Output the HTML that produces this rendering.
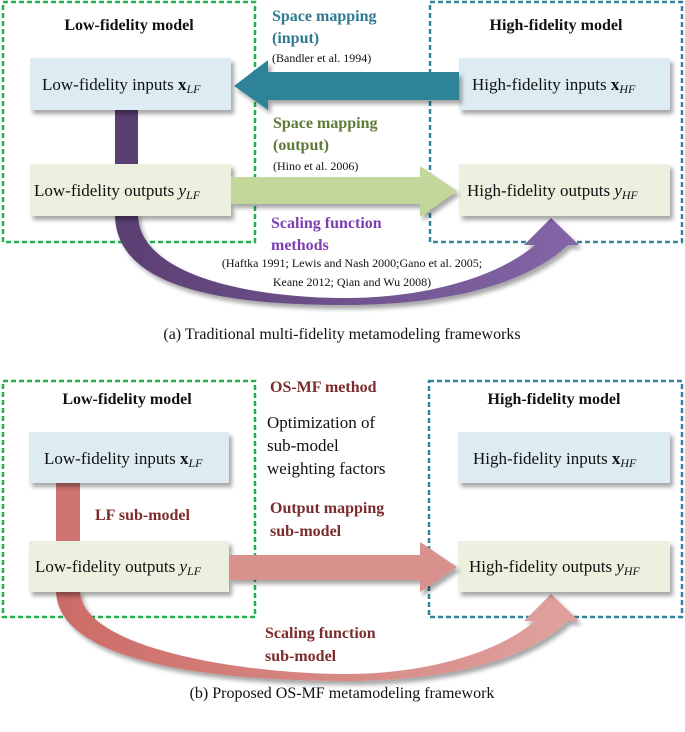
<!DOCTYPE html>
<html><head><meta charset="utf-8"><style>
html,body{margin:0;padding:0;background:#fff}
svg{display:block}
text{font-family:"Liberation Serif",serif}
.t{font-size:16px;font-weight:bold;fill:#111}
.b{font-size:17px;fill:#111}
.s{font-size:12px;fill:#111}
.c{font-size:16px;fill:#111}
</style></head><body>
<svg width="685" height="732" viewBox="0 0 685 732" xmlns="http://www.w3.org/2000/svg">
<defs>
<linearGradient id="pg" x1="0" y1="0" x2="1" y2="0"><stop offset="0" stop-color="#5a3f72"/><stop offset="1" stop-color="#8466a8"/></linearGradient>
<linearGradient id="rg" x1="0" y1="0" x2="1" y2="0"><stop offset="0" stop-color="#cc6b66"/><stop offset="1" stop-color="#e0a29e"/></linearGradient>
<filter id="sh" x="-10%" y="-10%" width="130%" height="140%"><feDropShadow dx="3" dy="4" stdDeviation="2" flood-color="#000" flood-opacity="0.35"/></filter>
</defs>

<!-- TOP -->
<rect x="3" y="2" width="252" height="240" fill="none" stroke="#22b14c" stroke-width="2.5" stroke-dasharray="5,3"/>
<rect x="430" y="2" width="252" height="240" fill="none" stroke="#31849b" stroke-width="2.5" stroke-dasharray="5,3"/>
<text class="t" x="129" y="30" text-anchor="middle">Low-fidelity model</text>
<text class="t" x="556" y="30" text-anchor="middle">High-fidelity model</text>

<rect x="115" y="108" width="23" height="60" fill="#5a3f72"/>
<path d="M138,214 C138,275 250,298 345,298 C430,298 500,275 535,245 L524,245 L551,218 L579,245 L568,245 C520,290 430,305 345,305 C230,305 115,290 115,214 Z" fill="url(#pg)" filter="url(#sh)"/>

<rect x="30" y="58" width="201" height="52" fill="#dcecf2" filter="url(#sh)"/>
<rect x="459" y="58" width="211" height="52" fill="#dcecf2" filter="url(#sh)"/>
<rect x="30" y="164" width="201" height="52" fill="#ebf1de" filter="url(#sh)"/>
<rect x="459" y="164" width="211" height="52" fill="#ebf1de" filter="url(#sh)"/>

<polygon points="459,72 268,72 268,60 234,86 268,110 268,100 459,100" fill="#2f8399" filter="url(#sh)"/>
<polygon points="231,177 420,177 420,166 457,191 420,217 420,204 231,204" fill="#c4d79b" filter="url(#sh)"/>

<text class="b" x="42" y="90">Low-fidelity inputs <tspan font-weight="bold">x</tspan><tspan font-style="italic" font-size="12" dy="3">LF</tspan></text>
<text class="b" x="472" y="90">High-fidelity inputs <tspan font-weight="bold">x</tspan><tspan font-style="italic" font-size="12" dy="3">HF</tspan></text>
<text class="b" x="34" y="196">Low-fidelity outputs <tspan font-style="italic">y</tspan><tspan font-style="italic" font-size="12" dy="3">LF</tspan></text>
<text class="b" x="467" y="196">High-fidelity outputs <tspan font-style="italic">y</tspan><tspan font-style="italic" font-size="12" dy="3">HF</tspan></text>

<text class="t" x="272" y="21" style="fill:#2f7a90">Space mapping</text>
<text class="t" x="272" y="43" style="fill:#2f7a90">(input)</text>
<text class="s" x="272" y="62">(Bandler et al. 1994)</text>
<text class="t" x="273" y="128" style="fill:#5e7a37">Space mapping</text>
<text class="t" x="273" y="150" style="fill:#5e7a37">(output)</text>
<text class="s" x="273" y="170">(Hino et al. 2006)</text>
<text class="t" x="271" y="228" style="fill:#7b3fb0">Scaling function</text>
<text class="t" x="271" y="250" style="fill:#7b3fb0">methods</text>
<text class="s" x="352" y="267" text-anchor="middle">(Haftka 1991; Lewis and Nash 2000;Gano et al. 2005;</text>
<text class="s" x="352" y="286" text-anchor="middle">Keane 2012; Qian and Wu 2008)</text>

<text class="c" x="342" y="339" text-anchor="middle">(a) Traditional multi-fidelity metamodeling frameworks</text>

<!-- BOTTOM -->
<rect x="3" y="381" width="252" height="236" fill="none" stroke="#22b14c" stroke-width="2.5" stroke-dasharray="5,3"/>
<rect x="429" y="381" width="253" height="236" fill="none" stroke="#31849b" stroke-width="2.5" stroke-dasharray="5,3"/>
<text class="t" x="127" y="404" text-anchor="middle">Low-fidelity model</text>
<text class="t" x="554" y="404" text-anchor="middle">High-fidelity model</text>

<rect x="56" y="481" width="24" height="62" fill="#cf7470"/>
<path d="M80,590 C80,650 250,674 345,674 C430,674 500,651 535,621 L524,621 L551,594 L579,621 L568,621 C520,666 430,681 345,681 C230,681 56,666 56,590 Z" fill="url(#rg)" filter="url(#sh)"/>

<rect x="29" y="432" width="200" height="51" fill="#dcecf2" filter="url(#sh)"/>
<rect x="458" y="432" width="212" height="51" fill="#dcecf2" filter="url(#sh)"/>
<rect x="29" y="541" width="200" height="51" fill="#ebf1de" filter="url(#sh)"/>
<rect x="458" y="541" width="212" height="51" fill="#ebf1de" filter="url(#sh)"/>

<polygon points="229,555 420,555 420,542 457,567 420,592 420,580 229,580" fill="#d9918d" filter="url(#sh)"/>

<text class="b" x="44" y="464">Low-fidelity inputs <tspan font-weight="bold">x</tspan><tspan font-style="italic" font-size="12" dy="3">LF</tspan></text>
<text class="b" x="473" y="464">High-fidelity inputs <tspan font-weight="bold">x</tspan><tspan font-style="italic" font-size="12" dy="3">HF</tspan></text>
<text class="b" x="35" y="572">Low-fidelity outputs <tspan font-style="italic">y</tspan><tspan font-style="italic" font-size="12" dy="3">LF</tspan></text>
<text class="b" x="469" y="572">High-fidelity outputs <tspan font-style="italic">y</tspan><tspan font-style="italic" font-size="12" dy="3">HF</tspan></text>

<text class="t" x="270" y="392" style="fill:#7b2c2c">OS-MF method</text>
<text class="b" x="267" y="428">Optimization of</text>
<text class="b" x="267" y="451">sub-model</text>
<text class="b" x="267" y="474">weighting factors</text>
<text class="t" x="95" y="520" style="fill:#7b2c2c">LF sub-model</text>
<text class="t" x="270" y="513" style="fill:#7b2c2c">Output mapping</text>
<text class="t" x="270" y="536" style="fill:#7b2c2c">sub-model</text>
<text class="t" x="265" y="638" style="fill:#7b2c2c">Scaling function</text>
<text class="t" x="265" y="661" style="fill:#7b2c2c">sub-model</text>

<text class="c" x="342" y="698" text-anchor="middle">(b) Proposed OS-MF metamodeling framework</text>
</svg>
</body></html>
